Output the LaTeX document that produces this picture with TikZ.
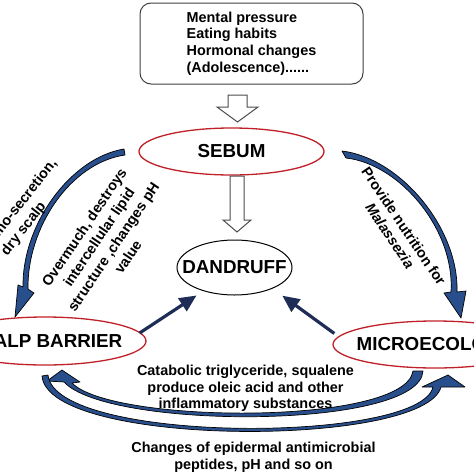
\documentclass[tikz,border=0pt]{standalone}
\usepackage{fontspec}
\setmainfont{Liberation Sans}
\usetikzlibrary{arrows.meta,calc,shapes.geometric}
\definecolor{ered}{RGB}{192,32,40}
\definecolor{bluefill}{RGB}{40,78,140}
\definecolor{navyline}{RGB}{30,45,85}
\begin{document}
\begin{tikzpicture}[x=1pt,y=-1pt,
  font=\bfseries\fontsize{14.4}{16.7}\selectfont,
  ellred/.style={ellipse, draw=ered, line width=1.3pt, inner xsep=-30pt, inner ysep=0pt,
    font=\bfseries\fontsize{18.8}{22}\selectfont},
  ellblack/.style={ellipse, draw=black, line width=1pt, inner xsep=-30pt, inner ysep=0pt,
    font=\bfseries\fontsize{18.8}{22}\selectfont},
  factorbox/.style={draw=black!75, line width=1pt, rounded corners=11pt, fill=white,
    minimum width=223pt, minimum height=81pt, align=left},
  hollow/.style={draw=black!70, fill=white, line width=1pt, line join=miter},
  bluearrow/.style={fill=bluefill, draw=black, line width=0.7pt, line join=round},
  navyarrow/.style={draw=navyline, line width=3.2pt,
    -{Triangle[length=17pt,width=15pt]}},
  rotlabel/.style={align=center, inner sep=0pt}
]
\useasboundingbox (0,0) rectangle (474,474);
\clip (0,0) rectangle (474,474);

% nodes
\node[factorbox] (factors) at (251.5,43.5)
  {Mental pressure\\Eating habits\\Hormonal changes\\(Adolescence)......};
\node[ellred, minimum width=185pt, minimum height=47pt] (sebum) at (231.5,151.5) {SEBUM};
\node[ellblack, minimum width=115pt, minimum height=55pt] (dandruff) at (234.5,267.5) {DANDRUFF};
\node[ellred, minimum width=202pt, minimum height=48pt] (scalp) at (45,341) {SCALP BARRIER};
\node[ellred, minimum width=204pt, minimum height=47pt] (micro) at (435,344.5) {MICROECOLOGY};

% hollow block arrows
\draw[hollow] (228,95) -- (247,95) -- (247,107) -- (258,107) -- (237.5,122)
  -- (217,107) -- (228,107) -- cycle;
\draw[hollow] (230,176) -- (244,176) -- (244,220) -- (251,220) -- (237,232)
  -- (223,220) -- (230,220) -- cycle;

% straight arrows to dandruff
\draw[navyarrow, shorten >=8pt] ($(scalp.east)+(-7,-8)$) -- (dandruff.217);
\draw[navyarrow, shorten >=12pt] ($(micro.west)+(2,-11)$) -- (dandruff.331);

% curved blue arrows
\filldraw[bluearrow] (124,149) .. controls (70,158) and (22,225) .. (23,287)
  -- (18,285) -- (15,317) -- (34,293) -- (28,289)
  .. controls (27,228) and (70,163) .. (125,155) -- cycle;
\filldraw[bluearrow] (342,151) .. controls (400,158) and (459,228) .. (457,292)
  -- (466,291) -- (461,318) -- (444,293) -- (451,292)
  .. controls (455,230) and (400,164) .. (346,158) -- cycle;
\filldraw[bluearrow] (413,371) .. controls (405,426) and (112,424) .. (72,383)
  -- (80,382) -- (62,370) -- (47,381) -- (64,382)
  .. controls (108,430) and (420,430) .. (423,371) -- cycle;
\filldraw[bluearrow] (48,375) .. controls (55,444) and (420,444) .. (433,387)
  -- (422,387) -- (448,375) -- (465,387) -- (441,387)
  .. controls (425,448) and (48,448) .. (42,376) -- cycle;

% labels
\node[rotlabel, rotate=52] (hypoA) at (25,198) {mo-secretion,};
\node[rotlabel, rotate=52] (hypoB) at (24,229) {dry scalp};
\node[rotlabel, rotate=56, font=\bfseries\fontsize{14.4}{17.6}\selectfont] (overmuch) at (106,242)
  {Overmuch, destroys\\intercellular lipid\\structure ,changes pH\\value};
\node[rotlabel, rotate=-56] (provide) at (397,231)
  {Provide nutrition for\\\textit{Malassezia}};
\node[rotlabel] (catabolic) at (245.5,388.5)
  {Catabolic triglyceride, squalene\\produce oleic acid and other\\inflammatory substances};
\node[rotlabel] (changes) at (253.5,457)
  {Changes of epidermal antimicrobial\\peptides, pH and so on};
\end{tikzpicture}
\end{document}
